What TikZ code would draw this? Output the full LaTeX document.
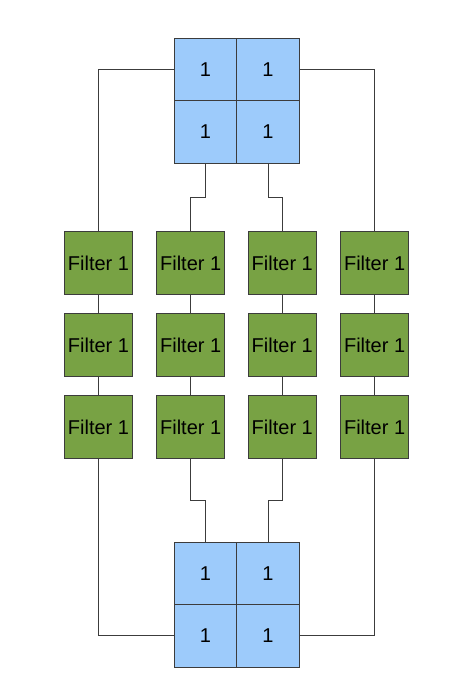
\documentclass[tikz,border=0pt]{standalone}
\usepackage{fontspec}
\setmainfont{Liberation Sans}
\usetikzlibrary{calc}
\definecolor{cellblue}{HTML}{9DCBFB}
\definecolor{filtergreen}{HTML}{78A244}
\definecolor{edgegrey}{HTML}{3C3C3C}
\begin{document}
\begin{tikzpicture}[x=1pt,y=-1pt,
  cell/.style={draw=edgegrey,fill=cellblue,line width=0.9pt,inner sep=0pt,outer sep=0pt,
    minimum width=62.5pt,minimum height=62.3pt,font=\fontsize{20}{24}\selectfont},
  filterbox/.style={draw=edgegrey,fill=filtergreen,line width=0.9pt,inner sep=0pt,outer sep=0pt,
    minimum width=68.4pt,minimum height=62.5pt,font=\fontsize{20}{24}\selectfont},
  wire/.style={draw=edgegrey,line width=0.8pt}]
\useasboundingbox (0,0) rectangle (474,689);
% top grid
\node[cell] (ta) at (205.4,69.6) {1};
\node[cell] (tb) at (267.9,69.6) {1};
\node[cell] (tc) at (205.4,132.0) {1};
\node[cell] (td) at (267.9,132.0) {1};
% bottom grid
\node[cell] (ba) at (205.4,573.5) {1};
\node[cell] (bb) at (267.9,573.5) {1};
\node[cell] (bc) at (205.4,635.8) {1};
\node[cell] (bd) at (267.9,635.8) {1};
% filters
\foreach \c/\x in {1/98.5,2/190.7,3/282.3,4/374.6}{
  \foreach \r/\y in {1/263,2/345,3/427}{
    \node[filterbox] (f\c\r) at (\x,\y) {Filter 1};
  }
}
% vertical links between filters
\foreach \c in {1,2,3,4}{
  \draw[wire] (f\c1.south) -- (f\c2.north);
  \draw[wire] (f\c2.south) -- (f\c3.north);
}
% top connections
\draw[wire] (ta.west) -| (f11.north);
\draw[wire] (tb.east) -| (f41.north);
\draw[wire] (tc.south) |- ($(tc.south)!0.5!(f21.north)$) -| (f21.north);
\draw[wire] (td.south) |- ($(td.south)!0.5!(f31.north)$) -| (f31.north);
% bottom connections
\draw[wire] (f13.south) |- (bc.west);
\draw[wire] (f43.south) |- (bd.east);
\draw[wire] (f23.south) |- ($(f23.south)!0.5!(ba.north)$) -| (ba.north);
\draw[wire] (f33.south) |- ($(f33.south)!0.5!(bb.north)$) -| (bb.north);
\end{tikzpicture}
\end{document}
